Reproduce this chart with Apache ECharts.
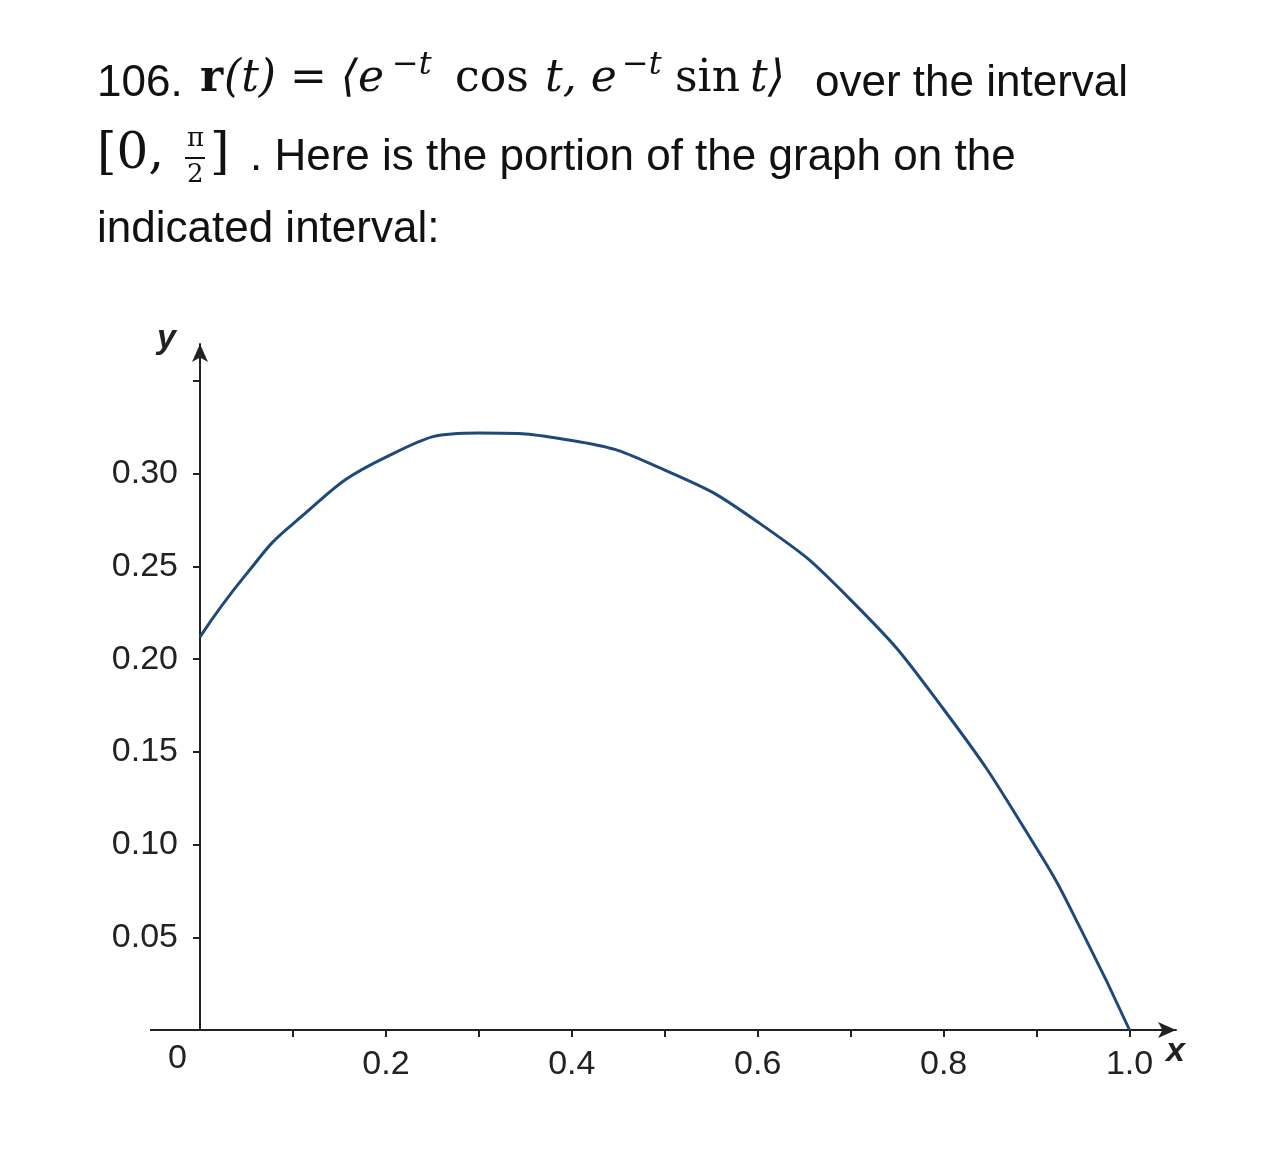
<!DOCTYPE html>
<html>
<head>
<meta charset="utf-8">
<script src="https://cdn.jsdelivr.net/npm/echarts@6/dist/echarts.min.js"></script>
<style>body{margin:0;background:#fff}#c{width:1284px;height:1174px}</style>
</head>
<body>
<div id="c"></div>
<script>
// curve
var xs = [0, 0.05, 0.1, 0.2, 0.3, 0.4, 0.5, 0.6, 0.7, 0.8, 0.9, 0.95, 1.0];
var ys = [0.212, 0.246, 0.273, 0.309, 0.322, 0.318, 0.302, 0.274, 0.232, 0.173, 0.098, 0.052, 0];
var xTicks = [0.1, 0.2, 0.3, 0.4, 0.5, 0.6, 0.7, 0.8, 0.9, 1.0];
var xLabels = [0.2, 0.4, 0.6, 0.8, 1.0];
var yTicks = [0.05, 0.1, 0.15, 0.2, 0.25, 0.3, 0.35];
var yLabels = [0.05, 0.1, 0.15, 0.2, 0.25, 0.3];

var chart = echarts.init(document.getElementById('c'));
var sans = 'Helvetica, "Liberation Sans", Arial, sans-serif';
var serif = '"DejaVu Serif", "Liberation Serif", serif';
var tFont = {fontSize: 44, fontFamily: sans, fill: '#111'};

function txt(x, y, s, st) {
  return {type: 'text', left: x, top: y, style: Object.assign({text: s}, tFont, st || {})};
}

var lineSt = {color: '#222', width: 2};

function axis(ticks, labels, max, digits, inside, main) {
  return {
    type: 'value', min: 0, max: max,
    axisLine: main ? {lineStyle: lineSt, symbol: ['none', 'arrow'], symbolSize: [12, 18]} : {show: false},
    splitLine: {show: false},
    axisTick: {show: true, inside: inside, length: 7, lineStyle: lineSt, customValues: ticks},
    axisLabel: main ? {fontSize: 34, color: '#222', fontFamily: sans, margin: digits === 1 ? 18 : 22,
      customValues: labels, formatter: function (v) { return v.toFixed(digits); }} : {show: false}
  };
}

chart.setOption({
  animation: false,
  grid: {left: 200, top: 344, width: 976, height: 686},
  xAxis: [axis(xTicks, xLabels, 1.05, 1, false, true), axis(xTicks, [], 1.05, 1, true, false)],
  yAxis: [axis(yTicks, yLabels, 0.37, 2, false, true), axis(yTicks, [], 0.37, 2, true, false)],
  series: [{
    type: 'line', smooth: 0.5, symbol: 'none',
    lineStyle: {color: '#1d4a7a', width: 3},
    data: xs.map(function (x, i) { return [x, ys[i]]; })
  }],
  graphic: [
    {type: 'line', shape: {x1: 150, y1: 1030, x2: 200, y2: 1030}, style: {stroke: '#222', lineWidth: 2}},
    txt(168, 1042, '0', {fontSize: 34, fill: '#222'}),
    txt(157, 322, 'y', {fontSize: 34, fontStyle: 'italic', fontWeight: 'bold', fill: '#222'}),
    txt(1166, 1035, 'x', {fontSize: 34, fontStyle: 'italic', fontWeight: 'bold', fill: '#222'}),
    txt(97, 62, '106.'),
    txt(200, 58, 'r', {fontFamily: serif, fontWeight: 'bold'}),
    txt(224, 58, '(t) = ⟨e', {fontFamily: serif, fontStyle: 'italic'}),
    txt(392, 50, '−t', {fontFamily: serif, fontStyle: 'italic', fontSize: 32}),
    txt(455, 58, 'cos', {fontFamily: serif}),
    txt(545, 58, 't, e', {fontFamily: serif, fontStyle: 'italic'}),
    txt(622, 50, '−t', {fontFamily: serif, fontStyle: 'italic', fontSize: 32}),
    txt(675, 58, 'sin', {fontFamily: serif}),
    txt(750, 58, 't⟩', {fontFamily: serif, fontStyle: 'italic'}),
    txt(815, 62, 'over the interval'),
    txt(97, 130, '[0,', {fontFamily: serif, fontSize: 50}),
    txt(187, 126, 'π', {fontFamily: serif, fontSize: 26}),
    {type: 'line', shape: {x1: 185, y1: 158, x2: 205, y2: 158}, style: {stroke: '#111', lineWidth: 2}},
    txt(187, 162, '2', {fontFamily: serif, fontSize: 26}),
    txt(210, 130, ']', {fontFamily: serif, fontSize: 50}),
    txt(250, 136, '. Here is the portion of the graph on the'),
    txt(97, 208, 'indicated interval:')
  ]
});
</script>
</body>
</html>
